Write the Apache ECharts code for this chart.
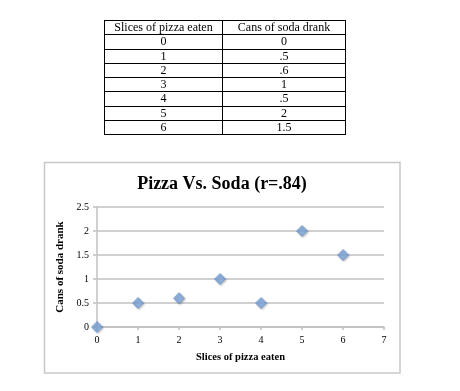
<!DOCTYPE html>
<html>
<head>
<meta charset="utf-8">
<script src="https://cdn.jsdelivr.net/npm/echarts@6/dist/echarts.min.js"></script>
<style>
  html, body { margin: 0; padding: 0; background: #fff; }
  #chart { position: absolute; left: 0; top: 0; width: 460px; height: 391px; }
  #tbl { position: absolute; left: 104px; top: 20px; border-collapse: collapse; table-layout: fixed;
         font-family: "Liberation Serif", serif; font-size: 12px; color: #000; z-index: 2; }
  #tbl td { border: 1px solid #000; text-align: center; padding: 0; height: 13.25px; line-height: 13px; }
</style>
</head>
<body>
<div id="chart"></div>
<table id="tbl"></table>
<script>
// ---- data ----
const tableHeaders = ["Slices of pizza eaten", "Cans of soda drank"];
const slicesLabels = ["0", "1", "2", "3", "4", "5", "6"];
const sodaLabels = ["0", ".5", ".6", "1", ".5", "2", "1.5"];
const slices = [0, 1, 2, 3, 4, 5, 6];
const soda = [0, 0.5, 0.6, 1, 0.5, 2, 1.5];
const chartTitle = "Pizza Vs. Soda (r=.84)";
const xName = "Slices of pizza eaten";
const yName = "Cans of soda drank";

// ---- table ----
const tbl = document.getElementById('tbl');
const colWidths = [118, 123];
let html = '<colgroup>' + colWidths.map(w => '<col style="width:' + w + 'px">').join('') + '</colgroup>';
html += '<tr>' + tableHeaders.map(h => '<td>' + h + '</td>').join('') + '</tr>';
for (let i = 0; i < slicesLabels.length; i++) {
  html += '<tr><td>' + slicesLabels[i] + '</td><td>' + sodaLabels[i] + '</td></tr>';
}
tbl.innerHTML = html;

// ---- chart ----
const chart = echarts.init(document.getElementById('chart'), null, { renderer: 'canvas' });
const serif = '"Liberation Serif", serif';
const gridColor = '#c0c0c0';
chart.setOption({
  animation: false,
  backgroundColor: '#fff',
  graphic: [{
    type: 'rect', silent: true, z: -1,
    shape: { x: 44.5, y: 162.5, width: 355.5, height: 210.5 },
    style: { fill: 'none', stroke: '#c8c8c8', lineWidth: 1.5 }
  }, {
    type: 'text', silent: true,
    x: 222, y: 184,
    style: {
      text: chartTitle, textAlign: 'center', textVerticalAlign: 'middle',
      font: 'bold 18px "Liberation Serif", serif', fill: '#000'
    }
  }],
  grid: { left: 97, right: 76, top: 207, bottom: 64, containLabel: false },
  xAxis: {
    type: 'value', min: 0, max: 7, interval: 1,
    name: xName, nameLocation: 'middle', nameGap: 25,
    nameTextStyle: { fontFamily: serif, fontWeight: 'bold', fontSize: 10.5, color: '#000' },
    axisLine: { show: true, lineStyle: { color: gridColor, width: 1.5 } },
    axisTick: { show: true, length: 3, lineStyle: { color: gridColor, width: 1.5 } },
    axisLabel: { fontFamily: serif, fontSize: 10, color: '#000', margin: 8 },
    splitLine: { show: false }
  },
  yAxis: {
    type: 'value', min: 0, max: 2.5, interval: 0.5,
    name: yName, nameLocation: 'middle', nameGap: 25, nameRotate: 90,
    nameTextStyle: { fontFamily: serif, fontWeight: 'bold', fontSize: 11, color: '#000' },
    axisLine: { show: true, lineStyle: { color: gridColor, width: 1.5 } },
    axisTick: { show: true, length: 4, lineStyle: { color: gridColor, width: 1.5 } },
    axisLabel: { fontFamily: serif, fontSize: 10, color: '#000', margin: 8 },
    splitLine: { show: true, lineStyle: { color: gridColor, width: 1.5 } }
  },
  series: [{
    type: 'scatter',
    symbol: 'diamond',
    symbolSize: 11,
    data: slices.map((x, i) => [x, soda[i]]),
    itemStyle: {
      color: '#7fa9de', borderColor: '#6090cc', borderWidth: 0.8,
      shadowBlur: 2, shadowOffsetX: 1, shadowOffsetY: 1, shadowColor: 'rgba(0,0,0,0.3)'
    }
  }]
});
</script>
</body>
</html>
